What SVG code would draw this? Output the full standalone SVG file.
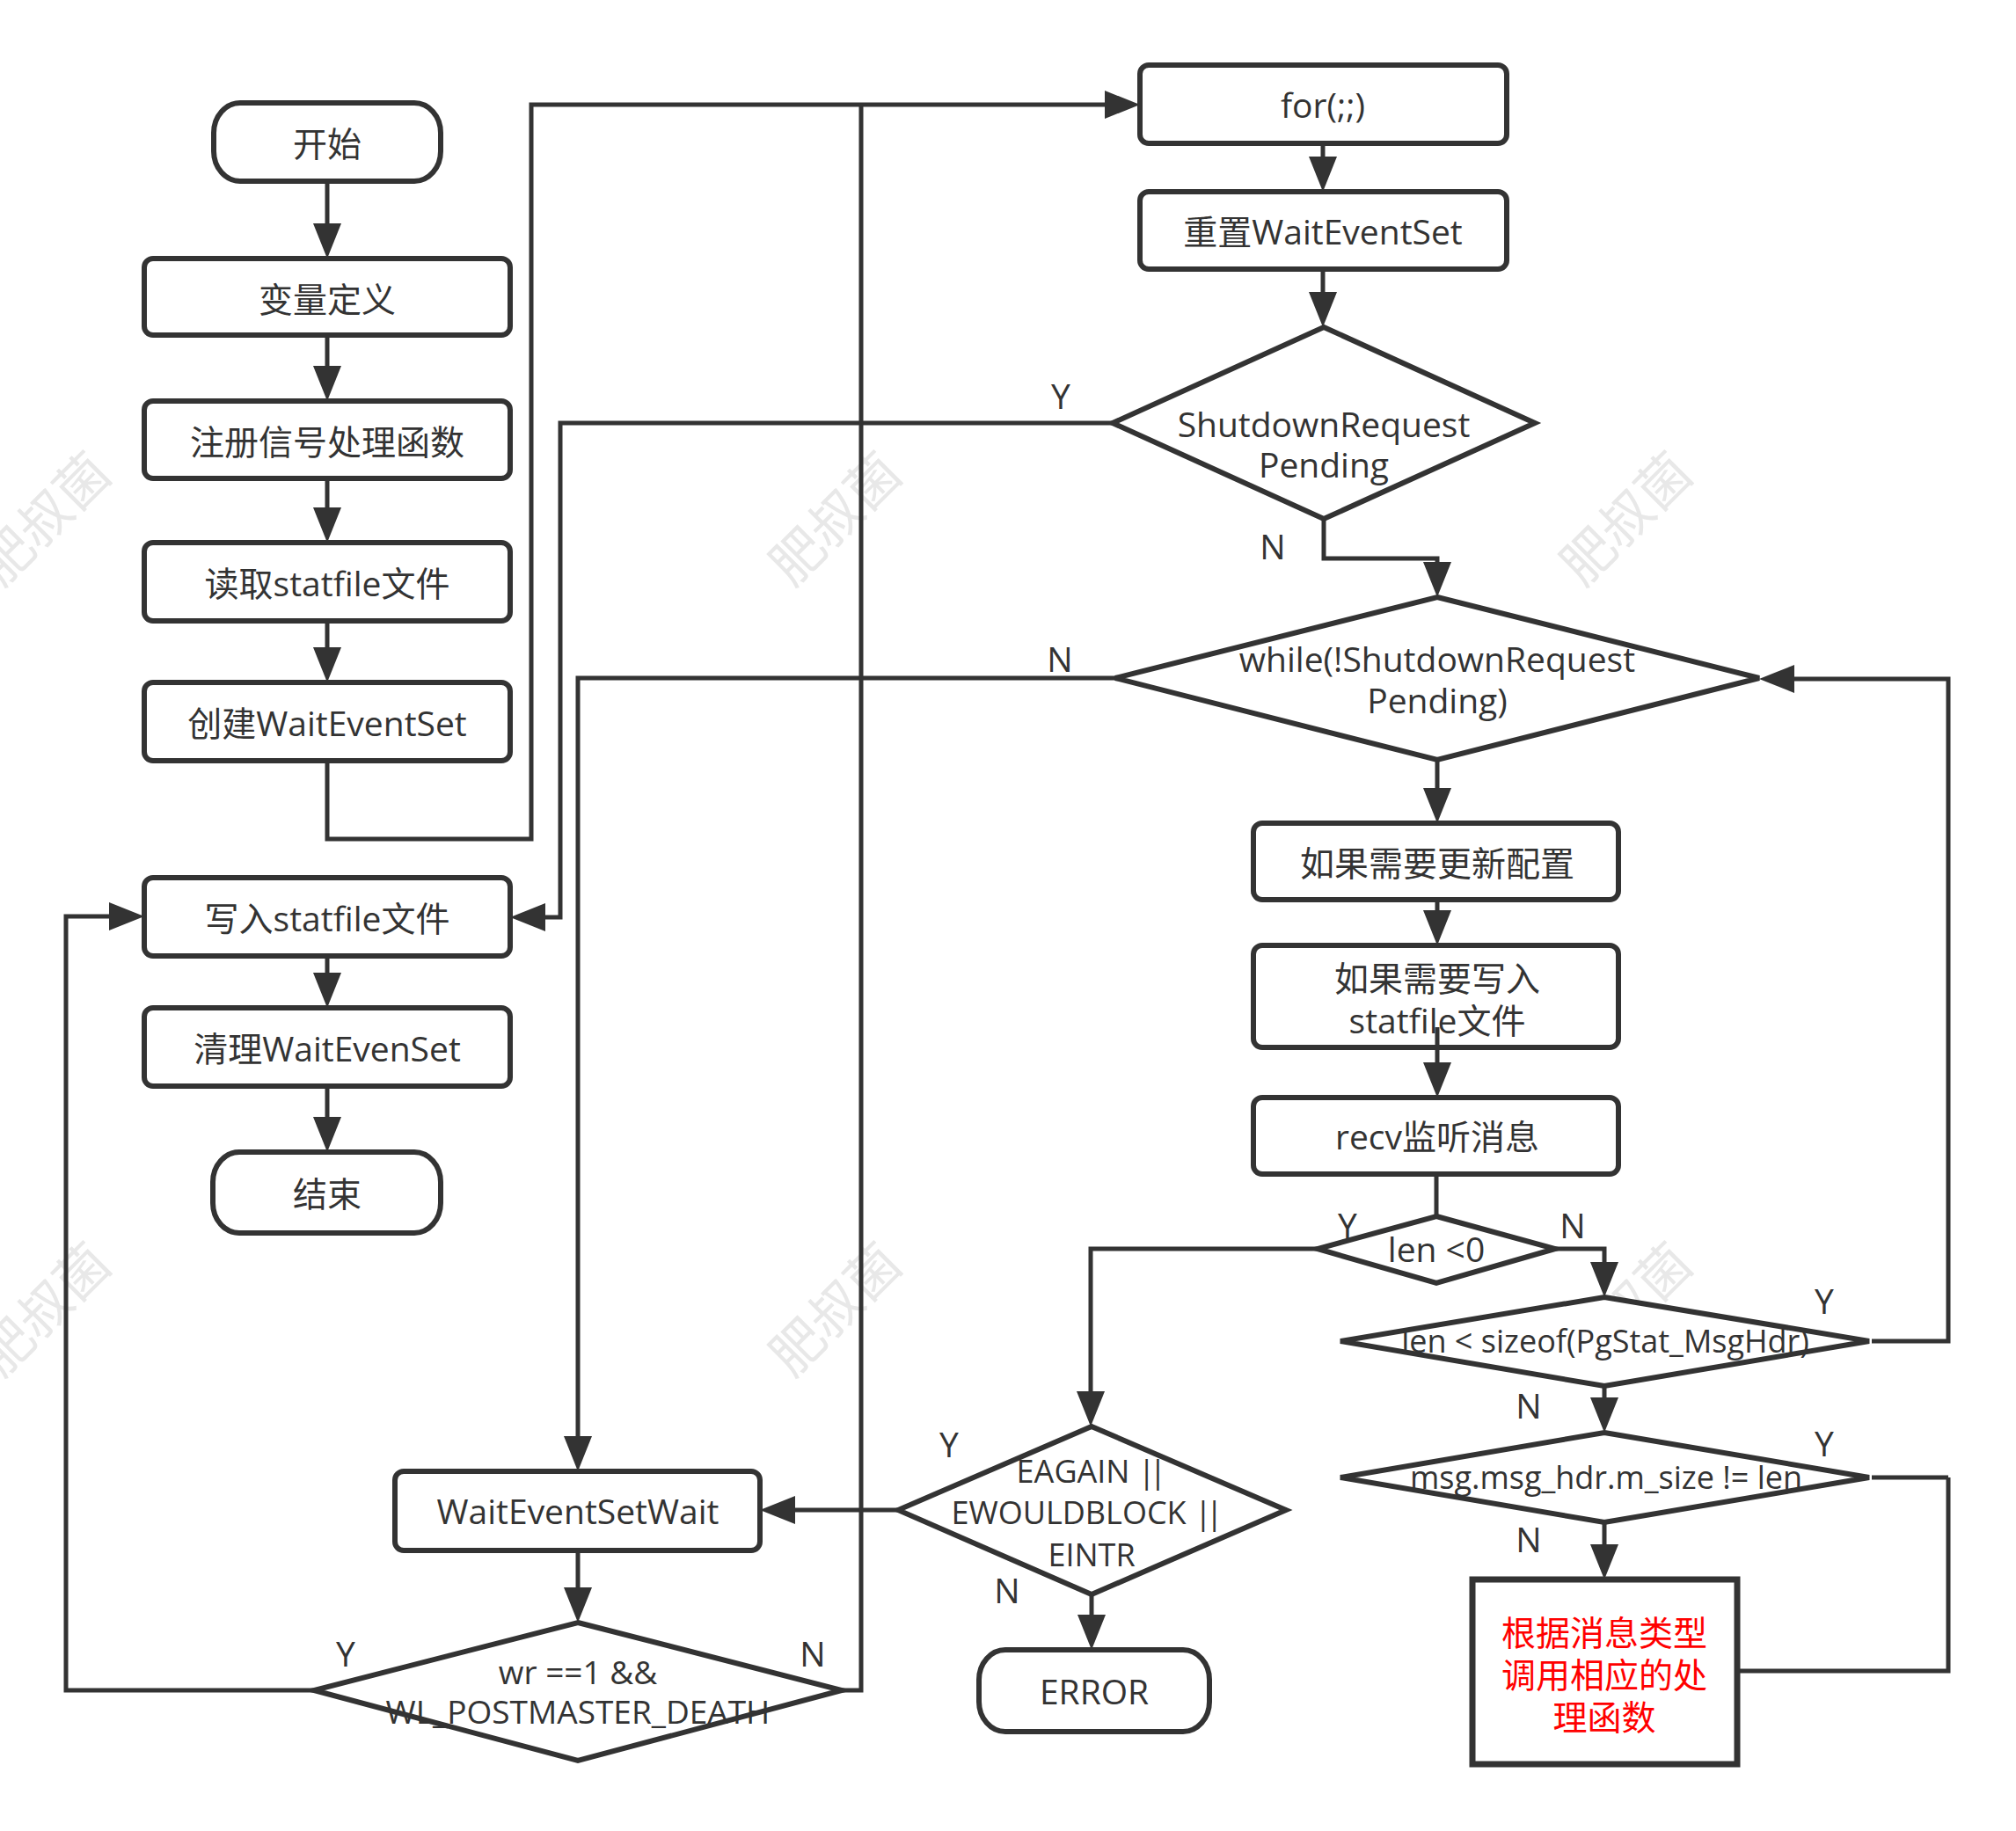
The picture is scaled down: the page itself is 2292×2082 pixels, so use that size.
<svg xmlns="http://www.w3.org/2000/svg" width="2292" height="2082" viewBox="0 0 2292 2082">
<defs>
<marker id="arr" markerUnits="userSpaceOnUse" markerWidth="40" markerHeight="32" refX="32" refY="16" orient="auto">
<path d="M0,0 L40,16 L0,32 z" fill="#333"/>
</marker>
<style>
.box{fill:#fff;stroke:#333;stroke-width:6}
.red{fill:#fff;stroke:#333;stroke-width:7}
.t{font-family:"Open Sans","Noto Sans CJK SC",sans-serif;font-size:39px;fill:#333;text-anchor:middle}
.s{font-size:36px}
.w{font-size:37px}
.r{fill:#ff0000}
.lbl{font-family:"Open Sans",sans-serif;font-size:39px;fill:#333;text-anchor:middle}
.c{fill:none;stroke:#333;stroke-width:5}
.wm{font-family:"Noto Sans CJK SC",sans-serif;font-size:60px;fill:#e8e8e8;text-anchor:middle}
</style>
</defs>
<rect width="2292" height="2082" fill="#fff"/>
<g id="watermarks">
<text class="wm" transform="translate(66,605) rotate(-45)">肥叔菌</text>
<text class="wm" transform="translate(965,605) rotate(-45)">肥叔菌</text>
<text class="wm" transform="translate(1864,605) rotate(-45)">肥叔菌</text>
<text class="wm" transform="translate(66,1504) rotate(-45)">肥叔菌</text>
<text class="wm" transform="translate(965,1504) rotate(-45)">肥叔菌</text>
<text class="wm" transform="translate(1864,1504) rotate(-45)">肥叔菌</text>
</g>
<g id="connectors">
<path class="c" d="M372,206 V286" marker-end="url(#arr)"/>
<path class="c" d="M372,381 V448" marker-end="url(#arr)"/>
<path class="c" d="M372,544 V609" marker-end="url(#arr)"/>
<path class="c" d="M372,706 V768" marker-end="url(#arr)"/>
<path class="c" d="M372,865 V954 H604 V119 H1288" marker-end="url(#arr)"/>
<path class="c" d="M372,1087 V1138" marker-end="url(#arr)"/>
<path class="c" d="M372,1235 V1302" marker-end="url(#arr)"/>
<path class="c" d="M1504,163 V210" marker-end="url(#arr)"/>
<path class="c" d="M1504,306 V364" marker-end="url(#arr)"/>
<path class="c" d="M1265,481 H637 V1043 H588" marker-end="url(#arr)"/>
<path class="c" d="M1505,590 V635 H1634 V671" marker-end="url(#arr)"/>
<path class="c" d="M1268,771 H657 V1665" marker-end="url(#arr)"/>
<path class="c" d="M1634,864 V928" marker-end="url(#arr)"/>
<path class="c" d="M1634,1023 V1067" marker-end="url(#arr)"/>
<path class="c" d="M1634,1172 V1240" marker-end="url(#arr)"/>
<path class="c" d="M1633,1335 V1383"/>
<path class="c" d="M1498,1420 H1240 V1614" marker-end="url(#arr)"/>
<path class="c" d="M1768,1420 H1824 V1467" marker-end="url(#arr)"/>
<path class="c" d="M1824,1575 V1621" marker-end="url(#arr)"/>
<path class="c" d="M2128,1525 H2215 V772 H2008" marker-end="url(#arr)"/>
<path class="c" d="M2128,1680 H2215"/>
<path class="c" d="M1824,1731 V1788" marker-end="url(#arr)"/>
<path class="c" d="M1975,1900 H2215 V1680"/>
<path class="c" d="M1021,1717 H872" marker-end="url(#arr)"/>
<path class="c" d="M1241,1813 V1868" marker-end="url(#arr)"/>
<path class="c" d="M657,1763 V1837" marker-end="url(#arr)"/>
<path class="c" d="M357,1922 H75 V1042 H156" marker-end="url(#arr)"/>
<path class="c" d="M957,1922 H979 V119"/>
</g>
<g id="start"><rect class="box" x="243" y="117" width="258" height="89" rx="30" ry="34"/><text class="t" x="372" y="178">开始</text></g>
<g id="vardef"><rect class="box" x="164" y="294" width="416" height="87" rx="10"/><text class="t" x="372" y="355">变量定义</text></g>
<g id="signal"><rect class="box" x="164" y="456" width="416" height="88" rx="10"/><text class="t" x="372" y="517">注册信号处理函数</text></g>
<g id="readstat"><rect class="box" x="164" y="617" width="416" height="89" rx="10"/><text class="t" x="372" y="678">读取statfile文件</text></g>
<g id="createwes"><rect class="box" x="164" y="776" width="416" height="89" rx="10"/><text class="t" x="372" y="837">创建WaitEventSet</text></g>
<g id="writestat"><rect class="box" x="164" y="998" width="416" height="89" rx="10"/><text class="t" x="372" y="1059">写入statfile文件</text></g>
<g id="cleanwes"><rect class="box" x="164" y="1146" width="416" height="89" rx="10"/><text class="t" x="372" y="1207">清理WaitEvenSet</text></g>
<g id="end"><rect class="box" x="242" y="1310" width="259" height="92" rx="30" ry="34"/><text class="t" x="372" y="1372">结束</text></g>
<g id="forloop"><rect class="box" x="1296" y="74" width="417" height="89" rx="10"/><text class="t" x="1504" y="134">for(;;)</text></g>
<g id="resetwes"><rect class="box" x="1296" y="218" width="417" height="88" rx="10"/><text class="t" x="1504" y="278">重置WaitEventSet</text></g>
<g id="shutdown"><polygon class="box" points="1505,372 1745,481 1505,590 1265,481"/><text class="t" x="1505" y="497">ShutdownRequest</text><text class="t" x="1505" y="543">Pending</text></g>
<g id="while"><polygon class="box" points="1634,679 2000,771 1634,864 1268,771"/><text class="t" x="1634" y="764">while(!ShutdownRequest</text><text class="t" x="1634" y="811">Pending)</text></g>
<g id="updateconf"><rect class="box" x="1425" y="936" width="415" height="87" rx="10"/><text class="t" x="1634" y="996">如果需要更新配置</text></g>
<g id="writeifneed"><rect class="box" x="1425" y="1075" width="415" height="116" rx="10"/><text class="t" x="1634" y="1127">如果需要写入</text><text class="t" x="1634" y="1175">statfile文件</text></g>
<path class="c" d="M1634,1168 V1191"/>
<g id="recv"><rect class="box" x="1425" y="1248" width="415" height="87" rx="10"/><text class="t" x="1634" y="1307">recv监听消息</text></g>
<g id="lenlt0"><polygon class="box" points="1633,1383 1768,1420 1633,1459 1498,1420"/><text class="t" x="1633" y="1435">len &lt;0</text></g>
<g id="sizeof"><polygon class="box" points="1824,1475 2125,1525 1824,1576 1524,1525"/><text class="t s" x="1825" y="1538">len &lt; sizeof(PgStat_MsgHdr)</text></g>
<g id="msgsize"><polygon class="box" points="1824,1629 2125,1680 1824,1731 1524,1680"/><text class="t s" x="1826" y="1693">msg.msg_hdr.m_size != len</text></g>
<g id="handler"><rect class="red" x="1674" y="1796" width="301" height="210"/><text class="t r" x="1824" y="1871">根据消息类型</text><text class="t r" x="1824" y="1919">调用相应的处</text><text class="t r" x="1824" y="1967">理函数</text></g>
<g id="eagain"><polygon class="box" points="1241,1622 1462,1717 1241,1813 1021,1717"/><text class="t s" x="1241" y="1686">EAGAIN |<tspan dx="-7">|</tspan></text><text class="t s" x="1236" y="1733">EWOULDBLOCK |<tspan dx="-7">|</tspan></text><text class="t s" x="1241" y="1781">EINTR</text></g>
<g id="error"><rect class="box" x="1113" y="1876" width="262" height="93" rx="30" ry="34"/><text class="t" x="1244" y="1938">ERROR</text></g>
<g id="wait"><rect class="box" x="449" y="1673" width="415" height="90" rx="10"/><text class="t" x="657" y="1733">WaitEventSetWait</text></g>
<g id="wr"><polygon class="box" points="657,1845 957,1922 657,2002 357,1922"/><text class="t w" x="657" y="1915">wr ==1 &amp;&amp;</text><text class="t w" x="657" y="1960">WL_POSTMASTER_DEATH</text></g>
<g id="labels">
<text class="lbl" x="1206" y="465">Y</text>
<text class="lbl" x="1447" y="636">N</text>
<text class="lbl" x="1205" y="764">N</text>
<text class="lbl" x="1532" y="1408">Y</text>
<text class="lbl" x="1788" y="1408">N</text>
<text class="lbl" x="2074" y="1494">Y</text>
<text class="lbl" x="1738" y="1613">N</text>
<text class="lbl" x="2074" y="1656">Y</text>
<text class="lbl" x="1738" y="1765">N</text>
<text class="lbl" x="1079" y="1657">Y</text>
<text class="lbl" x="1145" y="1823">N</text>
<text class="lbl" x="393" y="1895">Y</text>
<text class="lbl" x="924" y="1895">N</text>
</g>
</svg>
